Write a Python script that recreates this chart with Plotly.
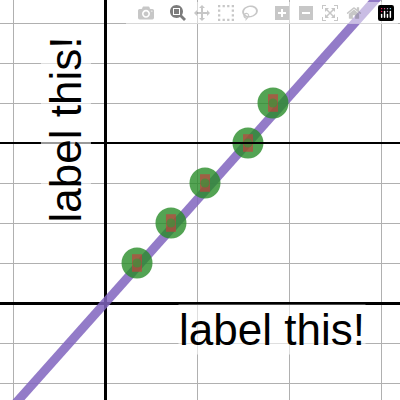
import plotly.graph_objects as go

px_x = [0.348, 0.717, 1.087, 1.554, 1.826]
py = [1, 2, 3, 4, 5]
line_x = [-1.3, 3.4]
slope = 2.58
line_y = [slope * v for v in line_x]
label_text = "label this!"

bar_x, bar_y = [], []
for a, b in zip(px_x, py):
    bar_x += [a, a, None]
    bar_y += [b - 0.22, b + 0.22, None]

fig = go.Figure()
fig.add_trace(go.Scatter(x=line_x, y=line_y, mode="lines",
                         line=dict(color="rgba(128,100,190,0.85)", width=9), hoverinfo="skip"))
fig.add_trace(go.Scatter(x=px_x, y=py, mode="markers",
                         marker=dict(size=31, color="rgba(40,140,40,0.8)"), hoverinfo="skip"))
fig.add_trace(go.Scatter(x=bar_x, y=bar_y, mode="lines",
                         line=dict(color="rgba(200,60,60,0.65)", width=10), hoverinfo="skip"))
fig.add_trace(go.Scatter(x=px_x, y=py, mode="markers",
                         marker=dict(size=9, color="rgba(70,140,60,0.8)"), hoverinfo="skip"))
fig.add_hline(y=4, line=dict(color="black", width=2))
fig.add_annotation(x=1.82, y=-0.65, text=label_text, showarrow=False,
                   font=dict(family="Liberation Sans", size=44, color="black"),
                   bgcolor="rgba(255,255,255,0.6)", borderpad=0)
fig.add_annotation(x=-0.43, y=4.35, text=label_text, showarrow=False, textangle=-90,
                   font=dict(family="Liberation Sans", size=44, color="black"),
                   bgcolor="rgba(255,255,255,0.6)", borderpad=0)
fig.update_xaxes(range=[-105/92, 295/92], dtick=1, tick0=0, showgrid=True,
                 gridcolor="#b0b0b0", gridwidth=1, zeroline=True, zerolinecolor="black",
                 zerolinewidth=3, showticklabels=False, ticks="")
fig.update_yaxes(range=[-97/40, 303/40], dtick=1, tick0=0, showgrid=True,
                 gridcolor="#b0b0b0", gridwidth=1, zeroline=True, zerolinecolor="black",
                 zerolinewidth=3, showticklabels=False, ticks="")
fig.update_layout(width=400, height=400, margin=dict(l=0, r=0, t=0, b=0),
                  plot_bgcolor="white", paper_bgcolor="white", showlegend=False)
fig.write_html("out.html", post_script="document.body.style.margin='0';")
